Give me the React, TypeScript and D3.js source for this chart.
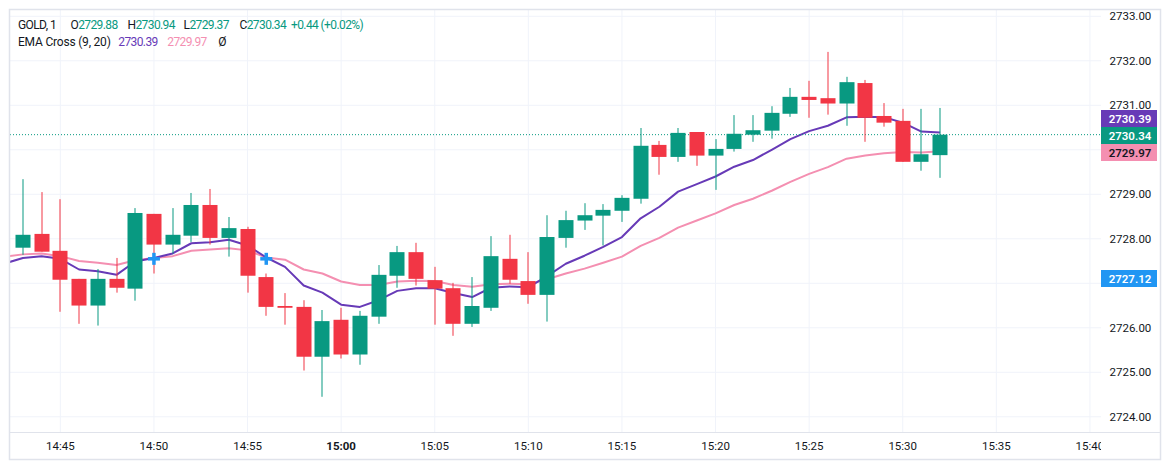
import React from "react";
import * as d3 from "d3";

const times = [
  "14:43","14:44","14:45","14:46","14:47","14:48","14:49","14:50","14:51","14:52",
  "14:53","14:54","14:55","14:56","14:57","14:58","14:59","15:00","15:01","15:02",
  "15:03","15:04","15:05","15:06","15:07","15:08","15:09","15:10","15:11","15:12",
  "15:13","15:14","15:15","15:16","15:17","15:18","15:19","15:20","15:21","15:22",
  "15:23","15:24","15:25","15:26","15:27","15:28","15:29","15:30","15:31","15:32",
];
const opens = [
  2727.80,2728.11,2727.73,2727.10,2726.50,2727.10,2726.88,2728.56,2727.87,2728.07,
  2728.76,2728.02,2728.22,2727.14,2726.49,2726.47,2725.35,2726.18,2725.40,2726.25,
  2727.17,2727.70,2727.07,2726.89,2726.09,2726.45,2727.55,2727.05,2726.74,2728.02,
  2728.41,2728.52,2728.63,2728.90,2730.11,2729.84,2730.40,2729.87,2730.02,2730.34,
  2730.43,2730.81,2731.19,2731.16,2731.04,2731.50,2730.76,2730.65,2729.73,2729.88,
];
const highs = [
  2729.34,2729.05,2728.89,2727.10,2727.32,2727.57,2728.69,2728.56,2728.69,2729.03,
  2729.12,2728.49,2728.27,2727.22,2726.78,2726.62,2726.40,2726.45,2726.38,2727.41,
  2727.84,2727.91,2727.37,2727.01,2727.14,2728.06,2728.09,2727.70,2728.53,2728.63,
  2728.80,2728.78,2728.98,2730.49,2730.20,2730.49,2730.40,2730.24,2730.78,2730.78,
  2730.98,2731.39,2731.55,2732.20,2731.64,2731.57,2731.05,2730.92,2730.92,2730.94,
];
const lows = [
  2727.64,2727.71,2726.36,2726.09,2726.05,2726.79,2726.61,2727.22,2727.67,2727.93,
  2727.87,2727.60,2726.79,2726.27,2726.07,2725.04,2724.45,2725.31,2725.17,2726.09,
  2726.90,2726.95,2726.07,2725.82,2726.02,2726.38,2726.99,2726.54,2726.14,2727.80,
  2728.20,2727.85,2728.38,2728.79,2729.44,2729.73,2729.64,2729.10,2729.96,2730.18,
  2730.25,2730.74,2730.72,2730.79,2730.54,2730.18,2730.52,2729.73,2729.53,2729.37,
];
const closes = [
  2728.09,2727.71,2727.08,2726.50,2727.10,2726.90,2728.58,2727.87,2728.09,2728.76,
  2728.02,2728.24,2727.17,2726.47,2726.45,2725.35,2726.15,2725.40,2726.27,2727.19,
  2727.70,2727.10,2726.88,2726.09,2726.49,2727.61,2727.08,2726.74,2728.04,2728.42,
  2728.53,2728.65,2728.92,2730.09,2729.84,2730.38,2729.87,2730.02,2730.36,2730.44,
  2730.83,2731.19,2731.12,2731.04,2731.52,2730.72,2730.61,2729.73,2729.90,2730.34,
];

// EMA series start one minute before the first visible candle (14:42)
const emaStart = "14:42";
const ema9 = [
  2727.44,
  2727.57,2727.61,2727.55,2727.31,2727.27,2727.19,2727.49,2727.57,2727.67,2727.90,
  2727.92,2727.98,2727.85,2727.58,2727.37,2726.95,2726.79,2726.52,2726.47,2726.62,
  2726.83,2726.89,2726.89,2726.78,2726.69,2726.90,2726.93,2726.91,2727.16,2727.44,
  2727.62,2727.82,2728.04,2728.46,2728.72,2729.06,2729.23,2729.40,2729.62,2729.77,
  2730.00,2730.24,2730.42,2730.54,2730.73,2730.74,2730.73,2730.61,2730.41,2730.39,
];
const ema20 = [
  2727.60,
  2727.65,2727.67,2727.61,2727.50,2727.46,2727.41,2727.52,2727.57,2727.61,2727.73,
  2727.76,2727.79,2727.74,2727.58,2727.53,2727.31,2727.22,2727.04,2726.96,2726.96,
  2727.04,2727.06,2727.05,2726.96,2726.92,2726.98,2726.99,2726.98,2727.09,2727.22,
  2727.33,2727.46,2727.60,2727.84,2728.02,2728.25,2728.41,2728.57,2728.76,2728.90,
  2729.08,2729.28,2729.46,2729.61,2729.80,2729.87,2729.92,2729.95,2729.94,2729.97,
];
const crossTimes = ["14:50", "14:56"];
const crossValues = [2727.55, 2727.55];

const priceTicks = [2724, 2725, 2726, 2727, 2728, 2729, 2730, 2731, 2732, 2733];
const hiddenPriceTicks = [2730]; // fully covered by the price badges
const timeTicks = ["14:45","14:50","14:55","15:00","15:05","15:10","15:15","15:20","15:25","15:30","15:35","15:40"];
const boldTimeTicks = ["15:00"];

const badgeValues = [2730.39, 2730.34, 2729.97, 2727.12];

const W = 1171;
const H = 470;
const LEFT = 10;
const TOP = 10;
const PLOT_R = 1101;
const PLOT_B = 432.5;
const RIGHT = 1160.5;
const BOTTOM = 459.5;

const UP = "#089981";
const DOWN = "#f23645";
const PURPLE = "#673ab7";
const PINK = "#f48fb1";
const BLUE = "#2196f3";
const TEXT = "#131722";
const GRID = "#f0f3fa";
const BORDER = "#e0e3eb";
const FONT = "Roboto, 'Noto Sans', sans-serif";

const minuteOf = (s: string) => {
  const [h, m] = s.split(":").map(Number);
  return h * 60 + m - (14 * 60 + 43);
};

export default function App() {
  const x = d3.scaleLinear().domain([0, 57]).range([22.9, 22.9 + 57 * 18.72]);
  const y = d3.scaleLinear().domain([2724, 2733]).range([416.8, 16.3]);
  const bodyW = 15;

  const emaOffset = minuteOf(emaStart);
  const line = d3
    .line<number>()
    .x((_, i) => x(emaOffset + i))
    .y((d) => y(d));

  const last = closes.length - 1;
  const o = opens[last], h = highs[last], l = lows[last], c = closes[last];
  const prev = closes[last - 1];
  const chg = c - prev;
  const pct = (chg / prev) * 100;

  const greenY = Math.round(y(closes[last]));
  const badges = [
    { v: badgeValues[0], top: greenY - 25, fill: PURPLE, color: "#fff" },
    { v: badgeValues[1], top: greenY - 8, fill: UP, color: "#fff" },
    { v: badgeValues[2], top: greenY + 9, fill: PINK, color: TEXT },
    { v: badgeValues[3], top: Math.round(y(badgeValues[3])) - 8, fill: BLUE, color: "#fff" },
  ];

  const LS = -0.6;

  return (
    <svg
      width={W}
      height={H}
      style={{ position: "absolute", left: 0, top: 0, background: "#fff" }}
      fontFamily={FONT}
    >
      <defs>
        <clipPath id="plot">
          <rect x={LEFT} y={TOP} width={PLOT_R - LEFT} height={PLOT_B - TOP} />
        </clipPath>
        <clipPath id="xaxis">
          <rect x={LEFT} y={PLOT_B} width={PLOT_R - LEFT} height={BOTTOM - PLOT_B} />
        </clipPath>
      </defs>
      <rect x={0} y={0} width={W} height={H} fill="#fff" />

      {/* grid */}
      <g clipPath="url(#plot)">
        {priceTicks.map((p) => (
          <line key={p} x1={LEFT} x2={PLOT_R} y1={y(p)} y2={y(p)} stroke={GRID} strokeWidth={1} />
        ))}
        {timeTicks.map((t) => (
          <line key={t} x1={x(minuteOf(t))} x2={x(minuteOf(t))} y1={TOP} y2={PLOT_B} stroke={GRID} strokeWidth={1} />
        ))}
      </g>

      {/* EMA lines (below candles) */}
      <g clipPath="url(#plot)">
        <path d={line(ema20) || ""} fill="none" stroke={PINK} strokeWidth={2} strokeLinejoin="round" />
        <path d={line(ema9) || ""} fill="none" stroke={PURPLE} strokeWidth={2} strokeLinejoin="round" />
      </g>

      {/* last price dotted line */}
      <line
        x1={LEFT}
        x2={PLOT_R}
        y1={y(closes[last])}
        y2={y(closes[last])}
        stroke={UP}
        strokeWidth={1}
        strokeDasharray="1 2"
      />

      {/* candles */}
      <g clipPath="url(#plot)">
        {times.map((t, i) => {
          const cx = Math.round(x(minuteOf(t)));
          const up = closes[i] >= opens[i];
          const col = up ? UP : DOWN;
          const yTop = y(Math.max(opens[i], closes[i]));
          const yBot = y(Math.min(opens[i], closes[i]));
          const bh = Math.max(1.5, yBot - yTop);
          return (
            <g key={t}>
              <rect x={cx - 0.5} y={y(highs[i])} width={1} height={y(lows[i]) - y(highs[i])} fill={col} />
              <rect x={cx - bodyW / 2} y={yTop} width={bodyW} height={bh} fill={col} />
            </g>
          );
        })}
      </g>

      {/* cross markers */}
      {crossTimes.map((t, i) => {
        const cx = x(minuteOf(t));
        const cy = y(crossValues[i]);
        return (
          <g key={t} fill={BLUE}>
            <rect x={cx - 6} y={cy - 1.75} width={12} height={3.5} />
            <rect x={cx - 1.75} y={cy - 6} width={3.5} height={12} />
          </g>
        );
      })}

      {/* frame */}
      <line x1={LEFT} x2={RIGHT} y1={PLOT_B} y2={PLOT_B} stroke={BORDER} strokeWidth={1} />
      <rect x={LEFT - 0.5} y={TOP - 0.5} width={RIGHT - LEFT + 0.5} height={BOTTOM - TOP + 0.5} fill="none" stroke={BORDER} strokeWidth={1.5} />

      {/* price axis labels */}
      {priceTicks
        .filter((p) => !hiddenPriceTicks.includes(p))
        .map((p) => (
          <text key={p} x={1109.5} y={y(p)} dy="0.35em" fontSize={11.5} fill={TEXT}>
            {p.toFixed(2)}
          </text>
        ))}

      {/* badges */}
      {badges.map((b) => (
        <g key={b.v}>
          <rect x={PLOT_R} y={b.top} width={56} height={17} fill={b.fill} />
          <text x={1130} y={b.top + 8.5} dy="0.35em" textAnchor="middle" fontSize={11.5} fontWeight={600} fill={b.color}>
            {b.v.toFixed(2)}
          </text>
        </g>
      ))}

      {/* time axis labels */}
      <g clipPath="url(#xaxis)">
        {timeTicks.map((t) => (
          <text
            key={t}
            x={x(minuteOf(t))}
            y={446}
            dy="0.35em"
            textAnchor="middle"
            fontSize={11.5}
            fontWeight={boldTimeTicks.includes(t) ? 700 : 400}
            fill={TEXT}
          >
            {t}
          </text>
        ))}
      </g>

      {/* legend */}
      <g fontSize={12} letterSpacing={LS}>
        <text x={18} y={29.3} fill={TEXT}>GOLD, 1</text>
        <text x={70.5} y={29.3} fill={TEXT}>O<tspan fill={UP}>{o.toFixed(2)}</tspan></text>
        <text x={127.5} y={29.3} fill={TEXT}>H<tspan fill={UP}>{h.toFixed(2)}</tspan></text>
        <text x={183.5} y={29.3} fill={TEXT}>L<tspan fill={UP}>{l.toFixed(2)}</tspan></text>
        <text x={239.5} y={29.3} fill={TEXT}>C<tspan fill={UP}>{c.toFixed(2)}</tspan></text>
        <text x={291} y={29.3} fill={UP}>
          {(chg >= 0 ? "+" : "") + chg.toFixed(2)} ({(pct >= 0 ? "+" : "") + pct.toFixed(2)}%)
        </text>
        <text x={18} y={45.5} fill={TEXT} letterSpacing={-0.2}>EMA Cross (9, 20)</text>
        <text x={118.3} y={45.5} fill={PURPLE}>{ema9[ema9.length - 1].toFixed(2)}</text>
        <text x={167.3} y={45.5} fill={PINK}>{ema20[ema20.length - 1].toFixed(2)}</text>
        <text x={218.3} y={45.5} fill={TEXT}>Ø</text>
      </g>
    </svg>
  );
}
